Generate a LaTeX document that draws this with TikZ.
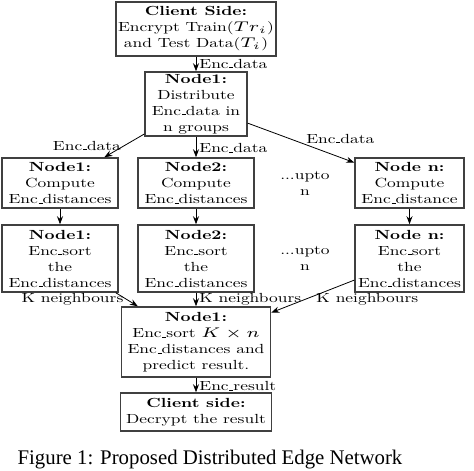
\documentclass[tikz,border=0pt]{standalone}
\usepackage{fontspec}
\usepackage{graphicx}
\usetikzlibrary{arrows.meta}
\newfontfamily\diagfont{lmroman10-regular.otf}[BoldFont=lmroman10-bold.otf, FakeStretch=1.32]
\newfontfamily\capfont{Liberation Serif}
\newcommand{\boxfont}{\diagfont\fontsize{6.6pt}{8pt}\selectfont}
\newcommand{\widemath}[1]{\scalebox{1.32}[1]{$#1$}}
\newcommand{\us}{\kern.06em\vbox{\hrule width.3em}}
\begin{document}
\begin{tikzpicture}[x=0.5pt, y=-0.5pt,
		box/.style={draw=black!75, line width=0.75pt, align=center, inner sep=1pt, font=\boxfont},
		lbl/.style={font=\boxfont, inner sep=1.5pt},
		>={Stealth[length=4pt, width=3pt]}]
	\useasboundingbox (0, 0) rectangle (474, 470);
	% client and distribution
	\node[box, minimum width=80pt, minimum height=27pt] (client) at (196, 29) {\textbf{Client Side:}\\Encrypt Train(\widemath{Tr_i})\\and Test Data(\widemath{T_i})};
	\node[box, minimum width=51pt, minimum height=32pt] (dist) at (196, 104) {\textbf{Node1:}\\Distribute\\Enc\us data in\\n groups};
	% compute row
	\node[box, minimum width=58pt, minimum height=25pt] (c1) at (60, 183) {\textbf{Node1:}\\Compute\\Enc\us distances};
	\node[box, minimum width=58pt, minimum height=25pt] (c2) at (196, 183) {\textbf{Node2:}\\Compute\\Enc\us distances};
	\node[box, minimum width=54.5pt, minimum height=25pt] (cn) at (409.5, 183) {\textbf{Node n:}\\Compute\\Enc\us distance};
	\node[lbl, align=center] (upto1) at (305, 183) {...upto\\n};
	% sort row
	\node[box, minimum width=58pt, minimum height=33.5pt] (s1) at (60, 258.5) {\textbf{Node1:}\\Enc\us sort\\the\\Enc\us distances};
	\node[box, minimum width=58pt, minimum height=33.5pt] (s2) at (196, 258.5) {\textbf{Node2:}\\Enc\us sort\\the\\Enc\us distances};
	\node[box, minimum width=54.5pt, minimum height=33.5pt] (sn) at (409.5, 258.5) {\textbf{Node n:}\\Enc\us sort\\the\\Enc\us distances};
	\node[lbl, align=center] (upto2) at (305, 258) {...upto\\n};
	% merge and result
	\node[box, minimum width=74.5pt, minimum height=35pt] (final) at (196, 342) {\textbf{Node1:}\\Enc\us sort \widemath{K \times n}\\Enc\us distances and\\predict result.};
	\node[box, minimum width=75.5pt, minimum height=19pt] (dec) at (196, 412) {\textbf{Client side:}\\Decrypt the result};
	\node[font=\capfont\fontsize{10.4pt}{12pt}\selectfont, inner sep=0pt] (caption) at (210, 460) {Figure 1: Proposed Distributed Edge Network};
	% connectors
	\draw[->] (client) -- node[lbl, pos=0.47, right] {Enc\us data} (dist);
	\draw[->] (dist) -- node[lbl, midway, left] {Enc\us data} (c1);
	\draw[->] (dist) -- node[lbl, pos=0.55, right] {Enc\us data} (c2);
	\draw[->] (dist) -- node[lbl, pos=0.7, above, xshift=9pt, yshift=2pt] {Enc\us data} (cn);
	\draw[->] (c1) -- (s1);
	\draw[->] (c2) -- (s2);
	\draw[->] (cn) -- (sn);
	\draw[->] (s1) -- node[lbl, midway, left] {K neighbours} (final);
	\draw[->] (s2) -- node[lbl, midway, right] {K neighbours} (final);
	\draw[->] (sn) -- node[lbl, pos=0.3, below, xshift=19pt] {K neighbours} (final);
	\draw[->] (final) -- node[lbl, pos=0.6, right] {Enc\us result} (dec);
\end{tikzpicture}
\end{document}
